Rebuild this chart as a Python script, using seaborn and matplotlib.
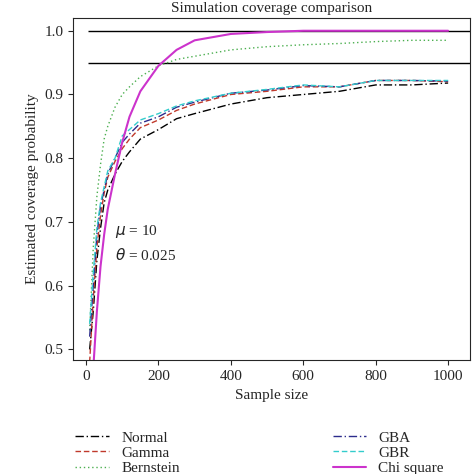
import numpy as np
import pandas as pd
import seaborn as sns
from matplotlib import pyplot as plt

sns.set_style('ticks')
plt.rcParams['font.family'] = ['Liberation Serif', 'DejaVu Serif']

sizes = [10, 20, 30, 40, 50, 60, 80, 100, 120, 150, 200, 250, 300, 400, 500, 600, 700, 800, 900, 1000]
normal = [0.50, 0.56, 0.64, 0.69, 0.73, 0.75, 0.775, 0.795, 0.81, 0.83, 0.845, 0.862, 0.87, 0.885, 0.895, 0.90, 0.905, 0.915, 0.915, 0.918]
gamma = [0.48, 0.58, 0.66, 0.71, 0.745, 0.77, 0.795, 0.815, 0.83, 0.848, 0.86, 0.875, 0.885, 0.90, 0.905, 0.912, 0.912, 0.922, 0.922, 0.92]
bernstein = [0.53, 0.66, 0.74, 0.79, 0.83, 0.85, 0.88, 0.90, 0.912, 0.928, 0.945, 0.955, 0.96, 0.97, 0.975, 0.978, 0.98, 0.983, 0.985, 0.985]
gba = [0.52, 0.60, 0.68, 0.725, 0.75, 0.775, 0.80, 0.825, 0.838, 0.855, 0.865, 0.88, 0.888, 0.902, 0.907, 0.914, 0.912, 0.922, 0.922, 0.921]
gbr = [0.54, 0.62, 0.69, 0.73, 0.755, 0.78, 0.80, 0.835, 0.845, 0.86, 0.87, 0.882, 0.89, 0.902, 0.908, 0.915, 0.912, 0.922, 0.922, 0.922]
chisq = [0.40, 0.47, 0.56, 0.63, 0.68, 0.72, 0.775, 0.825, 0.865, 0.905, 0.945, 0.97, 0.985, 0.995, 0.998, 1.0, 1.0, 1.0, 1.0, 1.0]

series = [('Normal', normal, 'black', (0, (6, 2, 1, 2)), 1.0),
          ('Gamma', gamma, '#c0392b', (0, (4, 2)), 1.0),
          ('Bernstein', bernstein, '#4caf50', (0, (1, 2)), 1.0),
          ('GBA', gba, '#2c2c8c', (0, (6, 2, 1, 2)), 1.0),
          ('GBR', gbr, '#33cccc', (0, (4, 2)), 1.0),
          ('Chi square', chisq, '#cc33cc', '-', 1.5)]

fig = plt.figure(figsize=(4.74, 4.74), dpi=100)
ax = fig.add_axes([0.154, 0.24, 0.838, 0.722])
ax.hlines([0.95, 1.0], 5, 1060, color='black', lw=1)
handles = []
for name, vals, col, ls, lw in series:
    df = pd.DataFrame({'n': sizes, 'p': vals})
    sns.lineplot(data=df, x='n', y='p', ax=ax, color=col, lw=lw)
    ax.lines[-1].set_linestyle(ls)
    handles.append(ax.lines[-1])
ax.set_xlim(-36, 1061)
ax.set_ylim(0.483, 1.02)
ax.set_xticks([0, 200, 400, 600, 800, 1000])
ax.set_yticks([0.5, 0.6, 0.7, 0.8, 0.9, 1.0])
ax.set_xlabel('Sample size', fontsize=11)
ax.set_ylabel('Estimated coverage probability', fontsize=11)
ax.tick_params(labelsize=11)
ax.text(80, 0.68, r'$\mu$ = 10', fontsize=11)
ax.text(80, 0.64, r'$\theta$ = 0.025', fontsize=11)
ax.set_title('Simulation coverage comparison', fontsize=11, pad=4)
fig.legend(handles, [s[0] for s in series], loc='upper left',
           bbox_to_anchor=(0.13, 0.12), ncol=2, frameon=False, fontsize=11,
           columnspacing=10, handlelength=2.2, labelspacing=0.1)
fig.savefig('out.png', dpi=100)
